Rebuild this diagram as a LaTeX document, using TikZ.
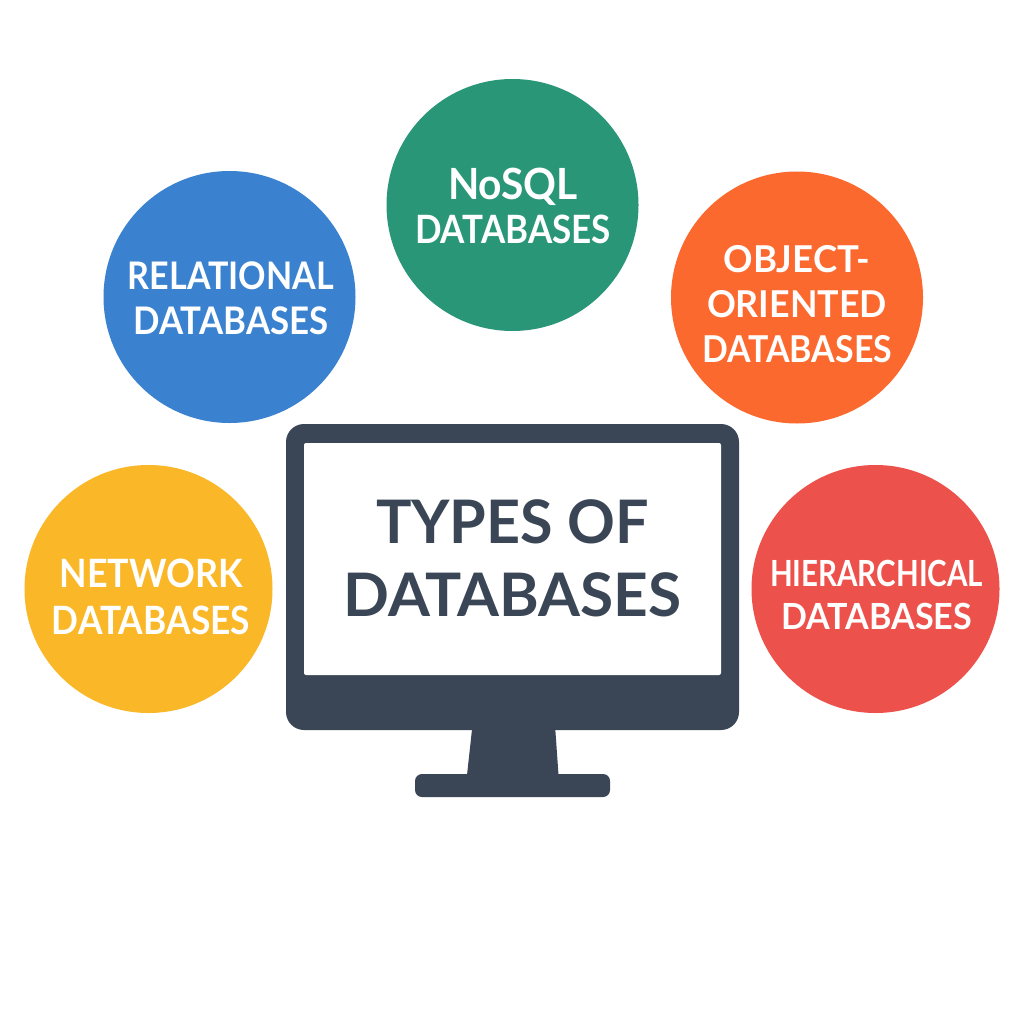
\documentclass[tikz,border=0pt]{standalone}
\usepackage{fontspec}
\setmainfont{Lato}
\definecolor{mon}{HTML}{3A4655}
\definecolor{cblue}{HTML}{3A82D0}
\definecolor{cgreen}{HTML}{2A9678}
\definecolor{corange}{HTML}{FC692F}
\definecolor{cyellow}{HTML}{FAB728}
\definecolor{cred}{HTML}{EC524B}
\newcommand{\fitw}[3]{{\fontsize{#2}{#2}\selectfont\resizebox{#1pt}{\height}{#3}}}
\tikzset{
  disc/.style={circle,minimum size=#1pt,inner sep=0pt},
  lab/.style={align=center,text=white,inner sep=0pt,font=\bfseries},
  title/.style={align=center,text=mon,inner sep=0pt,font=\bfseries}
}
\begin{document}
\begin{tikzpicture}[x=1pt,y=-1pt]
\useasboundingbox (0,0) rectangle (1024,1024);
\fill[white] (0,0) rectangle (1024,1024);
\node[disc=252,fill=cblue] (rel) at (229.5,297) {};
\node[disc=252,fill=cgreen] (nosql) at (512.5,205) {};
\node[disc=252,fill=corange] (obj) at (797,297.5) {};
\node[disc=248,fill=cyellow] (net) at (148.5,589) {};
\node[disc=248,fill=cred] (hier) at (875.5,589) {};
\fill[mon] (472.5,725) -- (555,725) -- (558.5,775) -- (467,775) -- cycle;
\fill[mon,rounded corners=7pt] (415,774) rectangle (610,797);
\fill[mon,rounded corners=18pt] (286,424) rectangle (739,730);
\fill[white,rounded corners=2pt] (304,443) rectangle (721,675);
\node[title] (t) at (512.5,558) {\fitw{273}{60}{TYPES OF}\\[27.5pt]\fitw{338}{60}{DATABASES}};
\node[lab] (lrel) at (231,298.5) {\fitw{206}{38}{RELATIONAL}\\[16pt]\fitw{195}{38}{DATABASES}};
\node[lab] (lnos) at (513,206) {\fitw{130}{43}{NoSQL}\\[8pt]\fitw{196}{39}{DATABASES}};
\node[lab] (lobj) at (797,304) {\fitw{147}{37}{OBJECT-}\\[17pt]\fitw{180}{37}{ORIENTED}\\[17pt]\fitw{190}{37}{DATABASES}};
\node[lab] (lnet) at (151,597) {\fitw{183}{39}{NETWORK}\\[16.5pt]\fitw{198}{39}{DATABASES}};
\node[lab] (lhie) at (876.5,595) {\fitw{213}{36}{HIERARCHICAL}\\[15pt]\fitw{191}{36}{DATABASES}};
\end{tikzpicture}
\end{document}
